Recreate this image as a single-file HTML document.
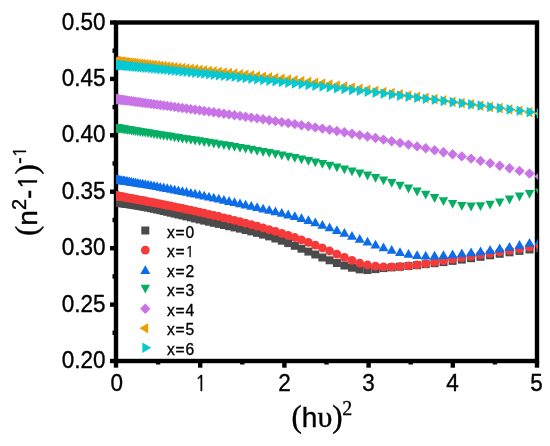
<!DOCTYPE html>
<html><head><meta charset="utf-8"><style>
html,body{margin:0;padding:0;background:#fff;width:550px;height:446px;overflow:hidden}
svg{display:block;filter:blur(0.35px)}
.tk{font-family:"Liberation Sans",Arial,sans-serif;font-size:22.5px;fill:#000;stroke:#000;stroke-width:0.35px}
.lg{font-family:"Liberation Sans",Arial,sans-serif;font-size:15.6px;letter-spacing:0.75px;fill:#000;stroke:#000;stroke-width:0.35px}
.al{font-family:"Liberation Sans",Arial,sans-serif;font-size:28px;fill:#000;stroke:#000;stroke-width:0.4px}
.sup{font-size:20px}
.one{font-family:"NanumGothic","Liberation Sans",sans-serif;font-size:0.9em}
.tk .one{font-size:0.85em}
.ups{font-family:"Liberation Serif","Times New Roman",serif;font-size:30px}
.par{font-family:"Liberation Serif","Times New Roman",serif;font-size:31px}
.sup2{font-family:"Liberation Serif","Times New Roman",serif;font-size:20px;fill:#000;stroke:#000;stroke-width:0.35px}
</style></head><body>
<svg width="550" height="446" viewBox="0 0 550 446">
<defs><clipPath id="cp"><rect x="116" y="22.5" width="422" height="338.5"/></clipPath></defs>
<rect x="116" y="22.5" width="421" height="338.5" fill="none" stroke="#000" stroke-width="4.4"/><line x1="110" y1="361" x2="116" y2="361" stroke="#000" stroke-width="4.4"/><line x1="112.5" y1="332.8" x2="116" y2="332.8" stroke="#000" stroke-width="4.4"/><line x1="110" y1="304.6" x2="116" y2="304.6" stroke="#000" stroke-width="4.4"/><line x1="112.5" y1="276.4" x2="116" y2="276.4" stroke="#000" stroke-width="4.4"/><line x1="110" y1="248.2" x2="116" y2="248.2" stroke="#000" stroke-width="4.4"/><line x1="112.5" y1="220" x2="116" y2="220" stroke="#000" stroke-width="4.4"/><line x1="110" y1="191.7" x2="116" y2="191.7" stroke="#000" stroke-width="4.4"/><line x1="112.5" y1="163.5" x2="116" y2="163.5" stroke="#000" stroke-width="4.4"/><line x1="110" y1="135.3" x2="116" y2="135.3" stroke="#000" stroke-width="4.4"/><line x1="112.5" y1="107.1" x2="116" y2="107.1" stroke="#000" stroke-width="4.4"/><line x1="110" y1="78.9" x2="116" y2="78.9" stroke="#000" stroke-width="4.4"/><line x1="112.5" y1="50.7" x2="116" y2="50.7" stroke="#000" stroke-width="4.4"/><line x1="110" y1="22.5" x2="116" y2="22.5" stroke="#000" stroke-width="4.4"/><line x1="116" y1="361" x2="116" y2="367.7" stroke="#000" stroke-width="4.4"/><line x1="158.1" y1="361" x2="158.1" y2="364.5" stroke="#000" stroke-width="4.4"/><line x1="200.2" y1="361" x2="200.2" y2="367.7" stroke="#000" stroke-width="4.4"/><line x1="242.3" y1="361" x2="242.3" y2="364.5" stroke="#000" stroke-width="4.4"/><line x1="284.4" y1="361" x2="284.4" y2="367.7" stroke="#000" stroke-width="4.4"/><line x1="326.5" y1="361" x2="326.5" y2="364.5" stroke="#000" stroke-width="4.4"/><line x1="368.6" y1="361" x2="368.6" y2="367.7" stroke="#000" stroke-width="4.4"/><line x1="410.7" y1="361" x2="410.7" y2="364.5" stroke="#000" stroke-width="4.4"/><line x1="452.8" y1="361" x2="452.8" y2="367.7" stroke="#000" stroke-width="4.4"/><line x1="494.9" y1="361" x2="494.9" y2="364.5" stroke="#000" stroke-width="4.4"/><line x1="537" y1="361" x2="537" y2="367.7" stroke="#000" stroke-width="4.4"/>
<g clip-path="url(#cp)"><g fill="#4b4b4b"><rect x="112" y="198.5" width="8" height="8"/><rect x="112.2" y="198.5" width="8" height="8"/><rect x="112.5" y="198.5" width="8" height="8"/><rect x="112.9" y="198.6" width="8" height="8"/><rect x="113.4" y="198.7" width="8" height="8"/><rect x="114.1" y="198.7" width="8" height="8"/><rect x="114.8" y="198.8" width="8" height="8"/><rect x="115.7" y="198.9" width="8" height="8"/><rect x="116.8" y="199" width="8" height="8"/><rect x="117.9" y="199.2" width="8" height="8"/><rect x="119.2" y="199.4" width="8" height="8"/><rect x="120.6" y="199.5" width="8" height="8"/><rect x="122.1" y="199.8" width="8" height="8"/><rect x="123.7" y="200" width="8" height="8"/><rect x="125.5" y="200.3" width="8" height="8"/><rect x="127.4" y="200.6" width="8" height="8"/><rect x="129.4" y="200.9" width="8" height="8"/><rect x="131.5" y="201.3" width="8" height="8"/><rect x="133.8" y="201.7" width="8" height="8"/><rect x="136.2" y="202.1" width="8" height="8"/><rect x="138.7" y="202.6" width="8" height="8"/><rect x="141.3" y="203.1" width="8" height="8"/><rect x="144.1" y="203.6" width="8" height="8"/><rect x="147" y="204.2" width="8" height="8"/><rect x="150" y="204.8" width="8" height="8"/><rect x="153.1" y="205.5" width="8" height="8"/><rect x="156.3" y="206.2" width="8" height="8"/><rect x="159.7" y="207" width="8" height="8"/><rect x="163.2" y="207.8" width="8" height="8"/><rect x="166.8" y="208.7" width="8" height="8"/><rect x="170.6" y="209.6" width="8" height="8"/><rect x="174.4" y="210.5" width="8" height="8"/><rect x="178.4" y="211.4" width="8" height="8"/><rect x="182.5" y="212.4" width="8" height="8"/><rect x="186.8" y="213.4" width="8" height="8"/><rect x="191.1" y="214.5" width="8" height="8"/><rect x="195.6" y="215.5" width="8" height="8"/><rect x="200.2" y="216.6" width="8" height="8"/><rect x="205" y="217.7" width="8" height="8"/><rect x="209.8" y="218.8" width="8" height="8"/><rect x="214.8" y="219.9" width="8" height="8"/><rect x="219.9" y="221" width="8" height="8"/><rect x="225.1" y="222.2" width="8" height="8"/><rect x="230.5" y="223.4" width="8" height="8"/><rect x="236" y="224.6" width="8" height="8"/><rect x="241.6" y="226" width="8" height="8"/><rect x="247.3" y="227.4" width="8" height="8"/><rect x="253.1" y="228.9" width="8" height="8"/><rect x="259.1" y="230.6" width="8" height="8"/><rect x="265.2" y="232.4" width="8" height="8"/><rect x="271.4" y="234.5" width="8" height="8"/><rect x="277.8" y="236.7" width="8" height="8"/><rect x="284.2" y="239.1" width="8" height="8"/><rect x="290.8" y="241.8" width="8" height="8"/><rect x="297.5" y="244.7" width="8" height="8"/><rect x="304.4" y="247.6" width="8" height="8"/><rect x="311.3" y="250.5" width="8" height="8"/><rect x="318.4" y="253.5" width="8" height="8"/><rect x="325.6" y="256.3" width="8" height="8"/><rect x="332.9" y="259" width="8" height="8"/><rect x="340.4" y="261.5" width="8" height="8"/><rect x="348" y="263.7" width="8" height="8"/><rect x="355.7" y="265.4" width="8" height="8"/><rect x="363.5" y="266" width="8" height="8"/><rect x="371.5" y="265.1" width="8" height="8"/><rect x="379.5" y="264.1" width="8" height="8"/><rect x="387.7" y="263.4" width="8" height="8"/><rect x="396" y="262.7" width="8" height="8"/><rect x="404.5" y="262" width="8" height="8"/><rect x="413.1" y="261.2" width="8" height="8"/><rect x="421.7" y="260.2" width="8" height="8"/><rect x="430.6" y="259.2" width="8" height="8"/><rect x="439.5" y="258.1" width="8" height="8"/><rect x="448.6" y="256.9" width="8" height="8"/><rect x="457.8" y="255.6" width="8" height="8"/><rect x="467.1" y="254.2" width="8" height="8"/><rect x="476.5" y="252.8" width="8" height="8"/><rect x="486.1" y="251.3" width="8" height="8"/><rect x="495.7" y="249.8" width="8" height="8"/><rect x="505.5" y="248.3" width="8" height="8"/><rect x="515.5" y="246.9" width="8" height="8"/><rect x="525.5" y="245.5" width="8" height="8"/><rect x="535.7" y="244.2" width="8" height="8"/></g><g fill="#f63a3a"><circle cx="116" cy="195.6" r="4.4"/><circle cx="116.2" cy="195.7" r="4.4"/><circle cx="116.5" cy="195.7" r="4.4"/><circle cx="116.9" cy="195.8" r="4.4"/><circle cx="117.4" cy="195.9" r="4.4"/><circle cx="118.1" cy="196" r="4.4"/><circle cx="118.8" cy="196.1" r="4.4"/><circle cx="119.7" cy="196.3" r="4.4"/><circle cx="120.8" cy="196.5" r="4.4"/><circle cx="121.9" cy="196.7" r="4.4"/><circle cx="123.2" cy="196.9" r="4.4"/><circle cx="124.6" cy="197.2" r="4.4"/><circle cx="126.1" cy="197.5" r="4.4"/><circle cx="127.7" cy="197.8" r="4.4"/><circle cx="129.5" cy="198.1" r="4.4"/><circle cx="131.4" cy="198.4" r="4.4"/><circle cx="133.4" cy="198.8" r="4.4"/><circle cx="135.5" cy="199.2" r="4.4"/><circle cx="137.8" cy="199.6" r="4.4"/><circle cx="140.2" cy="200.1" r="4.4"/><circle cx="142.7" cy="200.5" r="4.4"/><circle cx="145.3" cy="201" r="4.4"/><circle cx="148.1" cy="201.6" r="4.4"/><circle cx="151" cy="202.1" r="4.4"/><circle cx="154" cy="202.7" r="4.4"/><circle cx="157.1" cy="203.3" r="4.4"/><circle cx="160.3" cy="203.9" r="4.4"/><circle cx="163.7" cy="204.6" r="4.4"/><circle cx="167.2" cy="205.3" r="4.4"/><circle cx="170.8" cy="206" r="4.4"/><circle cx="174.6" cy="206.8" r="4.4"/><circle cx="178.4" cy="207.6" r="4.4"/><circle cx="182.4" cy="208.4" r="4.4"/><circle cx="186.5" cy="209.3" r="4.4"/><circle cx="190.8" cy="210.2" r="4.4"/><circle cx="195.1" cy="211.2" r="4.4"/><circle cx="199.6" cy="212.2" r="4.4"/><circle cx="204.2" cy="213.2" r="4.4"/><circle cx="209" cy="214.3" r="4.4"/><circle cx="213.8" cy="215.4" r="4.4"/><circle cx="218.8" cy="216.5" r="4.4"/><circle cx="223.9" cy="217.8" r="4.4"/><circle cx="229.1" cy="219" r="4.4"/><circle cx="234.5" cy="220.4" r="4.4"/><circle cx="240" cy="221.7" r="4.4"/><circle cx="245.6" cy="223.2" r="4.4"/><circle cx="251.3" cy="224.7" r="4.4"/><circle cx="257.1" cy="226.2" r="4.4"/><circle cx="263.1" cy="227.9" r="4.4"/><circle cx="269.2" cy="229.6" r="4.4"/><circle cx="275.4" cy="231.4" r="4.4"/><circle cx="281.8" cy="233.3" r="4.4"/><circle cx="288.2" cy="235.3" r="4.4"/><circle cx="294.8" cy="237.5" r="4.4"/><circle cx="301.5" cy="239.8" r="4.4"/><circle cx="308.4" cy="242.4" r="4.4"/><circle cx="315.3" cy="245.1" r="4.4"/><circle cx="322.4" cy="248" r="4.4"/><circle cx="329.6" cy="251" r="4.4"/><circle cx="336.9" cy="254.2" r="4.4"/><circle cx="344.4" cy="257.3" r="4.4"/><circle cx="352" cy="260.4" r="4.4"/><circle cx="359.7" cy="263.1" r="4.4"/><circle cx="367.5" cy="265" r="4.4"/><circle cx="375.5" cy="266.2" r="4.4"/><circle cx="383.5" cy="266.8" r="4.4"/><circle cx="391.7" cy="266.9" r="4.4"/><circle cx="400" cy="266.6" r="4.4"/><circle cx="408.5" cy="265.9" r="4.4"/><circle cx="417.1" cy="264.9" r="4.4"/><circle cx="425.7" cy="263.6" r="4.4"/><circle cx="434.6" cy="262.2" r="4.4"/><circle cx="443.5" cy="260.6" r="4.4"/><circle cx="452.6" cy="259.1" r="4.4"/><circle cx="461.8" cy="257.6" r="4.4"/><circle cx="471.1" cy="256.1" r="4.4"/><circle cx="480.5" cy="254.7" r="4.4"/><circle cx="490.1" cy="253.3" r="4.4"/><circle cx="499.7" cy="251.9" r="4.4"/><circle cx="509.5" cy="250.4" r="4.4"/><circle cx="519.5" cy="248.8" r="4.4"/><circle cx="529.5" cy="247.1" r="4.4"/><circle cx="539.7" cy="245.1" r="4.4"/></g><g fill="#0d6de9"><path d="M116 174.6L121 183.4L111 183.4Z"/><path d="M116.2 174.6L121.2 183.4L111.2 183.4Z"/><path d="M116.5 174.6L121.5 183.4L111.5 183.4Z"/><path d="M116.9 174.7L121.9 183.5L111.9 183.5Z"/><path d="M117.4 174.8L122.4 183.6L112.4 183.6Z"/><path d="M118.1 174.9L123.1 183.7L113.1 183.7Z"/><path d="M118.8 175L123.8 183.8L113.8 183.8Z"/><path d="M119.7 175.1L124.7 183.9L114.7 183.9Z"/><path d="M120.8 175.3L125.8 184.1L115.8 184.1Z"/><path d="M121.9 175.4L126.9 184.2L116.9 184.2Z"/><path d="M123.2 175.6L128.2 184.4L118.2 184.4Z"/><path d="M124.6 175.8L129.6 184.6L119.6 184.6Z"/><path d="M126.1 176.1L131.1 184.9L121.1 184.9Z"/><path d="M127.7 176.3L132.7 185.1L122.7 185.1Z"/><path d="M129.5 176.6L134.5 185.4L124.5 185.4Z"/><path d="M131.4 176.9L136.4 185.7L126.4 185.7Z"/><path d="M133.4 177.2L138.4 186L128.4 186Z"/><path d="M135.5 177.6L140.5 186.4L130.5 186.4Z"/><path d="M137.8 178L142.8 186.8L132.8 186.8Z"/><path d="M140.2 178.4L145.2 187.2L135.2 187.2Z"/><path d="M142.7 178.8L147.7 187.6L137.7 187.6Z"/><path d="M145.3 179.2L150.3 188L140.3 188Z"/><path d="M148.1 179.7L153.1 188.5L143.1 188.5Z"/><path d="M151 180.2L156 189L146 189Z"/><path d="M154 180.8L159 189.6L149 189.6Z"/><path d="M157.1 181.3L162.1 190.1L152.1 190.1Z"/><path d="M160.3 181.9L165.3 190.7L155.3 190.7Z"/><path d="M163.7 182.6L168.7 191.4L158.7 191.4Z"/><path d="M167.2 183.2L172.2 192L162.2 192Z"/><path d="M170.8 183.9L175.8 192.7L165.8 192.7Z"/><path d="M174.6 184.7L179.6 193.5L169.6 193.5Z"/><path d="M178.4 185.4L183.4 194.2L173.4 194.2Z"/><path d="M182.4 186.2L187.4 195L177.4 195Z"/><path d="M186.5 187L191.5 195.8L181.5 195.8Z"/><path d="M190.8 187.9L195.8 196.7L185.8 196.7Z"/><path d="M195.1 188.8L200.1 197.6L190.1 197.6Z"/><path d="M199.6 189.7L204.6 198.5L194.6 198.5Z"/><path d="M204.2 190.7L209.2 199.5L199.2 199.5Z"/><path d="M209 191.7L214 200.5L204 200.5Z"/><path d="M213.8 192.7L218.8 201.5L208.8 201.5Z"/><path d="M218.8 193.8L223.8 202.6L213.8 202.6Z"/><path d="M223.9 194.9L228.9 203.7L218.9 203.7Z"/><path d="M229.1 196.1L234.1 204.9L224.1 204.9Z"/><path d="M234.5 197.3L239.5 206.1L229.5 206.1Z"/><path d="M240 198.5L245 207.3L235 207.3Z"/><path d="M245.6 199.7L250.6 208.5L240.6 208.5Z"/><path d="M251.3 201L256.3 209.8L246.3 209.8Z"/><path d="M257.1 202.3L262.1 211.1L252.1 211.1Z"/><path d="M263.1 203.7L268.1 212.5L258.1 212.5Z"/><path d="M269.2 205L274.2 213.8L264.2 213.8Z"/><path d="M275.4 206.5L280.4 215.3L270.4 215.3Z"/><path d="M281.8 208L286.8 216.8L276.8 216.8Z"/><path d="M288.2 209.6L293.2 218.4L283.2 218.4Z"/><path d="M294.8 211.3L299.8 220.1L289.8 220.1Z"/><path d="M301.5 213.2L306.5 222L296.5 222Z"/><path d="M308.4 215.2L313.4 224L303.4 224Z"/><path d="M315.3 217.5L320.3 226.3L310.3 226.3Z"/><path d="M322.4 219.9L327.4 228.7L317.4 228.7Z"/><path d="M329.6 222.5L334.6 231.3L324.6 231.3Z"/><path d="M336.9 225.2L341.9 234L331.9 234Z"/><path d="M344.4 228L349.4 236.8L339.4 236.8Z"/><path d="M352 230.9L357 239.7L347 239.7Z"/><path d="M359.7 233.9L364.7 242.7L354.7 242.7Z"/><path d="M367.5 236.8L372.5 245.6L362.5 245.6Z"/><path d="M375.5 239.7L380.5 248.5L370.5 248.5Z"/><path d="M383.5 242.4L388.5 251.2L378.5 251.2Z"/><path d="M391.7 245L396.7 253.8L386.7 253.8Z"/><path d="M400 247.2L405 256L395 256Z"/><path d="M408.5 249L413.5 257.8L403.5 257.8Z"/><path d="M417.1 250.2L422.1 259L412.1 259Z"/><path d="M425.7 250.8L430.7 259.6L420.7 259.6Z"/><path d="M434.6 250.7L439.6 259.5L429.6 259.5Z"/><path d="M443.5 250.2L448.5 259L438.5 259Z"/><path d="M452.6 249.4L457.6 258.2L447.6 258.2Z"/><path d="M461.8 248.5L466.8 257.3L456.8 257.3Z"/><path d="M471.1 247.5L476.1 256.3L466.1 256.3Z"/><path d="M480.5 246.4L485.5 255.2L475.5 255.2Z"/><path d="M490.1 245.1L495.1 253.9L485.1 253.9Z"/><path d="M499.7 243.6L504.7 252.4L494.7 252.4Z"/><path d="M509.5 242L514.5 250.8L504.5 250.8Z"/><path d="M519.5 240.1L524.5 248.9L514.5 248.9Z"/><path d="M529.5 238L534.5 246.8L524.5 246.8Z"/><path d="M539.7 235.5L544.7 244.3L534.7 244.3Z"/></g><g fill="#06ae64"><path d="M111.3 124L120.7 124L116 132.8Z"/><path d="M111.5 124.1L120.9 124.1L116.2 132.9Z"/><path d="M111.8 124.1L121.2 124.1L116.5 132.9Z"/><path d="M112.2 124.2L121.6 124.2L116.9 133Z"/><path d="M112.7 124.3L122.1 124.3L117.4 133.1Z"/><path d="M113.4 124.4L122.8 124.4L118.1 133.2Z"/><path d="M114.1 124.5L123.5 124.5L118.8 133.3Z"/><path d="M115 124.7L124.4 124.7L119.7 133.5Z"/><path d="M116.1 124.8L125.5 124.8L120.8 133.6Z"/><path d="M117.2 125L126.6 125L121.9 133.8Z"/><path d="M118.5 125.2L127.9 125.2L123.2 134Z"/><path d="M119.9 125.5L129.3 125.5L124.6 134.3Z"/><path d="M121.4 125.7L130.8 125.7L126.1 134.5Z"/><path d="M123 126L132.4 126L127.7 134.8Z"/><path d="M124.8 126.3L134.2 126.3L129.5 135.1Z"/><path d="M126.7 126.6L136.1 126.6L131.4 135.4Z"/><path d="M128.7 126.9L138.1 126.9L133.4 135.7Z"/><path d="M130.8 127.3L140.2 127.3L135.5 136.1Z"/><path d="M133.1 127.6L142.5 127.6L137.8 136.4Z"/><path d="M135.5 128L144.9 128L140.2 136.8Z"/><path d="M138 128.4L147.4 128.4L142.7 137.2Z"/><path d="M140.6 128.8L150 128.8L145.3 137.6Z"/><path d="M143.4 129.3L152.8 129.3L148.1 138.1Z"/><path d="M146.3 129.7L155.7 129.7L151 138.5Z"/><path d="M149.3 130.2L158.7 130.2L154 139Z"/><path d="M152.4 130.7L161.8 130.7L157.1 139.5Z"/><path d="M155.6 131.2L165 131.2L160.3 140Z"/><path d="M159 131.7L168.4 131.7L163.7 140.5Z"/><path d="M162.5 132.3L171.9 132.3L167.2 141.1Z"/><path d="M166.1 132.8L175.5 132.8L170.8 141.6Z"/><path d="M169.9 133.4L179.3 133.4L174.6 142.2Z"/><path d="M173.7 134L183.1 134L178.4 142.8Z"/><path d="M177.7 134.7L187.1 134.7L182.4 143.5Z"/><path d="M181.8 135.3L191.2 135.3L186.5 144.1Z"/><path d="M186.1 136L195.5 136L190.8 144.8Z"/><path d="M190.4 136.6L199.8 136.6L195.1 145.4Z"/><path d="M194.9 137.3L204.3 137.3L199.6 146.1Z"/><path d="M199.5 138.1L208.9 138.1L204.2 146.9Z"/><path d="M204.3 138.8L213.7 138.8L209 147.6Z"/><path d="M209.1 139.6L218.5 139.6L213.8 148.4Z"/><path d="M214.1 140.4L223.5 140.4L218.8 149.2Z"/><path d="M219.2 141.2L228.6 141.2L223.9 150Z"/><path d="M224.4 142.1L233.8 142.1L229.1 150.9Z"/><path d="M229.8 143L239.2 143L234.5 151.8Z"/><path d="M235.3 143.9L244.7 143.9L240 152.7Z"/><path d="M240.9 144.8L250.3 144.8L245.6 153.6Z"/><path d="M246.6 145.8L256 145.8L251.3 154.6Z"/><path d="M252.4 146.9L261.8 146.9L257.1 155.7Z"/><path d="M258.4 147.9L267.8 147.9L263.1 156.7Z"/><path d="M264.5 149L273.9 149L269.2 157.8Z"/><path d="M270.7 150.2L280.1 150.2L275.4 159Z"/><path d="M277.1 151.4L286.5 151.4L281.8 160.2Z"/><path d="M283.5 152.7L292.9 152.7L288.2 161.5Z"/><path d="M290.1 154L299.5 154L294.8 162.8Z"/><path d="M296.8 155.4L306.2 155.4L301.5 164.2Z"/><path d="M303.7 156.9L313.1 156.9L308.4 165.7Z"/><path d="M310.6 158.4L320 158.4L315.3 167.2Z"/><path d="M317.7 160L327.1 160L322.4 168.8Z"/><path d="M324.9 161.7L334.3 161.7L329.6 170.5Z"/><path d="M332.2 163.5L341.6 163.5L336.9 172.3Z"/><path d="M339.7 165.4L349.1 165.4L344.4 174.2Z"/><path d="M347.3 167.4L356.7 167.4L352 176.2Z"/><path d="M355 169.4L364.4 169.4L359.7 178.2Z"/><path d="M362.8 171.6L372.2 171.6L367.5 180.4Z"/><path d="M370.8 174L380.2 174L375.5 182.8Z"/><path d="M378.8 176.4L388.2 176.4L383.5 185.2Z"/><path d="M387 179L396.4 179L391.7 187.8Z"/><path d="M395.3 181.7L404.7 181.7L400 190.5Z"/><path d="M403.8 184.6L413.2 184.6L408.5 193.4Z"/><path d="M412.4 187.6L421.8 187.6L417.1 196.4Z"/><path d="M421 190.8L430.4 190.8L425.7 199.6Z"/><path d="M429.9 194.1L439.3 194.1L434.6 202.9Z"/><path d="M438.8 197.3L448.2 197.3L443.5 206.1Z"/><path d="M447.9 200L457.3 200L452.6 208.8Z"/><path d="M457.1 201.9L466.5 201.9L461.8 210.7Z"/><path d="M466.4 202.6L475.8 202.6L471.1 211.4Z"/><path d="M475.8 202.2L485.2 202.2L480.5 211Z"/><path d="M485.4 200.8L494.8 200.8L490.1 209.6Z"/><path d="M495 198.5L504.4 198.5L499.7 207.3Z"/><path d="M504.8 195.6L514.2 195.6L509.5 204.4Z"/><path d="M514.8 192.6L524.2 192.6L519.5 201.4Z"/><path d="M524.8 190L534.2 190L529.5 198.8Z"/><path d="M535 188.6L544.4 188.6L539.7 197.4Z"/></g><g fill="#c874e6"><path d="M116 93.9L121.2 99.1L116 104.3L110.8 99.1Z"/><path d="M116.2 93.9L121.4 99.1L116.2 104.3L111 99.1Z"/><path d="M116.5 93.9L121.7 99.1L116.5 104.3L111.3 99.1Z"/><path d="M116.9 94L122.1 99.2L116.9 104.4L111.7 99.2Z"/><path d="M117.4 94.1L122.6 99.3L117.4 104.5L112.2 99.3Z"/><path d="M118.1 94.1L123.3 99.3L118.1 104.5L112.9 99.3Z"/><path d="M118.8 94.2L124 99.4L118.8 104.6L113.6 99.4Z"/><path d="M119.7 94.4L124.9 99.6L119.7 104.8L114.5 99.6Z"/><path d="M120.8 94.5L126 99.7L120.8 104.9L115.6 99.7Z"/><path d="M121.9 94.7L127.1 99.9L121.9 105.1L116.7 99.9Z"/><path d="M123.2 94.8L128.4 100L123.2 105.2L118 100Z"/><path d="M124.6 95L129.8 100.2L124.6 105.4L119.4 100.2Z"/><path d="M126.1 95.2L131.3 100.4L126.1 105.6L120.9 100.4Z"/><path d="M127.7 95.4L132.9 100.6L127.7 105.8L122.5 100.6Z"/><path d="M129.5 95.7L134.7 100.9L129.5 106.1L124.3 100.9Z"/><path d="M131.4 95.9L136.6 101.1L131.4 106.3L126.2 101.1Z"/><path d="M133.4 96.2L138.6 101.4L133.4 106.6L128.2 101.4Z"/><path d="M135.5 96.5L140.7 101.7L135.5 106.9L130.3 101.7Z"/><path d="M137.8 96.8L143 102L137.8 107.2L132.6 102Z"/><path d="M140.2 97.1L145.4 102.3L140.2 107.5L135 102.3Z"/><path d="M142.7 97.5L147.9 102.7L142.7 107.9L137.5 102.7Z"/><path d="M145.3 97.8L150.5 103L145.3 108.2L140.1 103Z"/><path d="M148.1 98.2L153.3 103.4L148.1 108.6L142.9 103.4Z"/><path d="M151 98.6L156.2 103.8L151 109L145.8 103.8Z"/><path d="M154 99L159.2 104.2L154 109.4L148.8 104.2Z"/><path d="M157.1 99.4L162.3 104.6L157.1 109.8L151.9 104.6Z"/><path d="M160.3 99.8L165.5 105L160.3 110.2L155.1 105Z"/><path d="M163.7 100.3L168.9 105.5L163.7 110.7L158.5 105.5Z"/><path d="M167.2 100.7L172.4 105.9L167.2 111.1L162 105.9Z"/><path d="M170.8 101.2L176 106.4L170.8 111.6L165.6 106.4Z"/><path d="M174.6 101.7L179.8 106.9L174.6 112.1L169.4 106.9Z"/><path d="M178.4 102.3L183.6 107.5L178.4 112.7L173.2 107.5Z"/><path d="M182.4 102.8L187.6 108L182.4 113.2L177.2 108Z"/><path d="M186.5 103.3L191.7 108.5L186.5 113.7L181.3 108.5Z"/><path d="M190.8 103.9L196 109.1L190.8 114.3L185.6 109.1Z"/><path d="M195.1 104.5L200.3 109.7L195.1 114.9L189.9 109.7Z"/><path d="M199.6 105.1L204.8 110.3L199.6 115.5L194.4 110.3Z"/><path d="M204.2 105.8L209.4 111L204.2 116.2L199 111Z"/><path d="M209 106.4L214.2 111.6L209 116.8L203.8 111.6Z"/><path d="M213.8 107.1L219 112.3L213.8 117.5L208.6 112.3Z"/><path d="M218.8 107.8L224 113L218.8 118.2L213.6 113Z"/><path d="M223.9 108.5L229.1 113.7L223.9 118.9L218.7 113.7Z"/><path d="M229.1 109.2L234.3 114.4L229.1 119.6L223.9 114.4Z"/><path d="M234.5 110L239.7 115.2L234.5 120.4L229.3 115.2Z"/><path d="M240 110.7L245.2 115.9L240 121.1L234.8 115.9Z"/><path d="M245.6 111.5L250.8 116.7L245.6 121.9L240.4 116.7Z"/><path d="M251.3 112.4L256.5 117.6L251.3 122.8L246.1 117.6Z"/><path d="M257.1 113.2L262.3 118.4L257.1 123.6L251.9 118.4Z"/><path d="M263.1 114.1L268.3 119.3L263.1 124.5L257.9 119.3Z"/><path d="M269.2 115L274.4 120.2L269.2 125.4L264 120.2Z"/><path d="M275.4 115.9L280.6 121.1L275.4 126.3L270.2 121.1Z"/><path d="M281.8 116.9L287 122.1L281.8 127.3L276.6 122.1Z"/><path d="M288.2 117.9L293.4 123.1L288.2 128.3L283 123.1Z"/><path d="M294.8 118.9L300 124.1L294.8 129.3L289.6 124.1Z"/><path d="M301.5 120L306.7 125.2L301.5 130.4L296.3 125.2Z"/><path d="M308.4 121.1L313.6 126.3L308.4 131.5L303.2 126.3Z"/><path d="M315.3 122.2L320.5 127.4L315.3 132.6L310.1 127.4Z"/><path d="M322.4 123.4L327.6 128.6L322.4 133.8L317.2 128.6Z"/><path d="M329.6 124.6L334.8 129.8L329.6 135L324.4 129.8Z"/><path d="M336.9 125.8L342.1 131L336.9 136.2L331.7 131Z"/><path d="M344.4 127.1L349.6 132.3L344.4 137.5L339.2 132.3Z"/><path d="M352 128.5L357.2 133.7L352 138.9L346.8 133.7Z"/><path d="M359.7 129.9L364.9 135.1L359.7 140.3L354.5 135.1Z"/><path d="M367.5 131.3L372.7 136.5L367.5 141.7L362.3 136.5Z"/><path d="M375.5 132.8L380.7 138L375.5 143.2L370.3 138Z"/><path d="M383.5 134.4L388.7 139.6L383.5 144.8L378.3 139.6Z"/><path d="M391.7 136L396.9 141.2L391.7 146.4L386.5 141.2Z"/><path d="M400 137.7L405.2 142.9L400 148.1L394.8 142.9Z"/><path d="M408.5 139.4L413.7 144.6L408.5 149.8L403.3 144.6Z"/><path d="M417.1 141.2L422.3 146.4L417.1 151.6L411.9 146.4Z"/><path d="M425.7 143L430.9 148.2L425.7 153.4L420.5 148.2Z"/><path d="M434.6 145L439.8 150.2L434.6 155.4L429.4 150.2Z"/><path d="M443.5 147L448.7 152.2L443.5 157.4L438.3 152.2Z"/><path d="M452.6 149L457.8 154.2L452.6 159.4L447.4 154.2Z"/><path d="M461.8 151.2L467 156.4L461.8 161.6L456.6 156.4Z"/><path d="M471.1 153.4L476.3 158.6L471.1 163.8L465.9 158.6Z"/><path d="M480.5 155.7L485.7 160.9L480.5 166.1L475.3 160.9Z"/><path d="M490.1 158.1L495.3 163.3L490.1 168.5L484.9 163.3Z"/><path d="M499.7 160.5L504.9 165.7L499.7 170.9L494.5 165.7Z"/><path d="M509.5 163.1L514.7 168.3L509.5 173.5L504.3 168.3Z"/><path d="M519.5 165.7L524.7 170.9L519.5 176.1L514.3 170.9Z"/><path d="M529.5 168.4L534.7 173.6L529.5 178.8L524.3 173.6Z"/><path d="M539.7 171.2L544.9 176.4L539.7 181.6L534.5 176.4Z"/></g><g fill="#eb9f05"><path d="M110.2 61.3L118.9 56L118.9 66.6Z"/><path d="M110.4 61.3L119.1 56L119.1 66.6Z"/><path d="M110.7 61.4L119.4 56.1L119.4 66.7Z"/><path d="M111.1 61.4L119.8 56.1L119.8 66.7Z"/><path d="M111.6 61.5L120.3 56.2L120.3 66.8Z"/><path d="M112.3 61.5L121 56.2L121 66.8Z"/><path d="M113 61.6L121.7 56.3L121.7 66.9Z"/><path d="M113.9 61.7L122.6 56.4L122.6 67Z"/><path d="M115 61.8L123.7 56.5L123.7 67.1Z"/><path d="M116.1 61.9L124.8 56.6L124.8 67.2Z"/><path d="M117.4 62L126.1 56.7L126.1 67.3Z"/><path d="M118.8 62.2L127.5 56.9L127.5 67.5Z"/><path d="M120.3 62.3L129 57L129 67.6Z"/><path d="M121.9 62.5L130.6 57.2L130.6 67.8Z"/><path d="M123.7 62.7L132.4 57.4L132.4 68Z"/><path d="M125.6 62.9L134.3 57.6L134.3 68.2Z"/><path d="M127.6 63.1L136.3 57.8L136.3 68.4Z"/><path d="M129.7 63.3L138.4 58L138.4 68.6Z"/><path d="M132 63.5L140.7 58.2L140.7 68.8Z"/><path d="M134.4 63.8L143.1 58.5L143.1 69.1Z"/><path d="M136.9 64L145.6 58.7L145.6 69.3Z"/><path d="M139.5 64.3L148.2 59L148.2 69.6Z"/><path d="M142.3 64.5L151 59.2L151 69.8Z"/><path d="M145.2 64.8L153.9 59.5L153.9 70.1Z"/><path d="M148.2 65.1L156.9 59.8L156.9 70.4Z"/><path d="M151.3 65.5L160 60.2L160 70.8Z"/><path d="M154.5 65.8L163.2 60.5L163.2 71.1Z"/><path d="M157.9 66.1L166.6 60.8L166.6 71.4Z"/><path d="M161.4 66.5L170.1 61.2L170.1 71.8Z"/><path d="M165 66.9L173.7 61.6L173.7 72.2Z"/><path d="M168.8 67.3L177.5 62L177.5 72.6Z"/><path d="M172.6 67.7L181.3 62.4L181.3 73Z"/><path d="M176.6 68.1L185.3 62.8L185.3 73.4Z"/><path d="M180.7 68.5L189.4 63.2L189.4 73.8Z"/><path d="M185 68.9L193.7 63.6L193.7 74.2Z"/><path d="M189.3 69.4L198 64.1L198 74.7Z"/><path d="M193.8 69.9L202.5 64.6L202.5 75.2Z"/><path d="M198.4 70.4L207.1 65.1L207.1 75.7Z"/><path d="M203.2 70.9L211.9 65.6L211.9 76.2Z"/><path d="M208 71.4L216.7 66.1L216.7 76.7Z"/><path d="M213 71.9L221.7 66.6L221.7 77.2Z"/><path d="M218.1 72.5L226.8 67.2L226.8 77.8Z"/><path d="M223.3 73L232 67.7L232 78.3Z"/><path d="M228.7 73.6L237.4 68.3L237.4 78.9Z"/><path d="M234.2 74.2L242.9 68.9L242.9 79.5Z"/><path d="M239.8 74.8L248.5 69.5L248.5 80.1Z"/><path d="M245.5 75.4L254.2 70.1L254.2 80.7Z"/><path d="M251.3 76.1L260 70.8L260 81.4Z"/><path d="M257.3 76.8L266 71.5L266 82.1Z"/><path d="M263.4 77.4L272.1 72.1L272.1 82.7Z"/><path d="M269.6 78.1L278.3 72.8L278.3 83.4Z"/><path d="M276 78.8L284.7 73.5L284.7 84.1Z"/><path d="M282.4 79.6L291.1 74.3L291.1 84.9Z"/><path d="M289 80.3L297.7 75L297.7 85.6Z"/><path d="M295.7 81.1L304.4 75.8L304.4 86.4Z"/><path d="M302.6 81.9L311.3 76.6L311.3 87.2Z"/><path d="M309.5 82.7L318.2 77.4L318.2 88Z"/><path d="M316.6 83.6L325.3 78.3L325.3 88.9Z"/><path d="M323.8 84.5L332.5 79.2L332.5 89.8Z"/><path d="M331.1 85.5L339.8 80.2L339.8 90.8Z"/><path d="M338.6 86.5L347.3 81.2L347.3 91.8Z"/><path d="M346.2 87.6L354.9 82.3L354.9 92.9Z"/><path d="M353.9 88.7L362.6 83.4L362.6 94Z"/><path d="M361.7 89.8L370.4 84.5L370.4 95.1Z"/><path d="M369.7 90.9L378.4 85.6L378.4 96.2Z"/><path d="M377.7 92L386.4 86.7L386.4 97.3Z"/><path d="M385.9 93.1L394.6 87.8L394.6 98.4Z"/><path d="M394.2 94.3L402.9 89L402.9 99.6Z"/><path d="M402.7 95.5L411.4 90.2L411.4 100.8Z"/><path d="M411.3 96.7L420 91.4L420 102Z"/><path d="M419.9 97.9L428.6 92.6L428.6 103.2Z"/><path d="M428.8 99.1L437.5 93.8L437.5 104.4Z"/><path d="M437.7 100.4L446.4 95.1L446.4 105.7Z"/><path d="M446.8 101.7L455.5 96.4L455.5 107Z"/><path d="M456 103L464.7 97.7L464.7 108.3Z"/><path d="M465.3 104.3L474 99L474 109.6Z"/><path d="M474.7 105.6L483.4 100.3L483.4 110.9Z"/><path d="M484.3 106.9L493 101.6L493 112.2Z"/><path d="M493.9 108.1L502.6 102.8L502.6 113.4Z"/><path d="M503.7 109.4L512.4 104.1L512.4 114.7Z"/><path d="M513.7 110.8L522.4 105.5L522.4 116.1Z"/><path d="M523.7 112.1L532.4 106.8L532.4 117.4Z"/><path d="M533.9 113.5L542.6 108.2L542.6 118.8Z"/></g><g fill="#05c8d2"><path d="M121.8 64.6L113.1 59.3L113.1 69.9Z"/><path d="M122 64.6L113.3 59.3L113.3 69.9Z"/><path d="M122.3 64.7L113.6 59.4L113.6 70Z"/><path d="M122.7 64.7L114 59.4L114 70Z"/><path d="M123.2 64.8L114.5 59.5L114.5 70.1Z"/><path d="M123.9 64.8L115.2 59.5L115.2 70.1Z"/><path d="M124.6 64.9L115.9 59.6L115.9 70.2Z"/><path d="M125.5 65L116.8 59.7L116.8 70.3Z"/><path d="M126.6 65.1L117.9 59.8L117.9 70.4Z"/><path d="M127.7 65.2L119 59.9L119 70.5Z"/><path d="M129 65.3L120.3 60L120.3 70.6Z"/><path d="M130.4 65.5L121.7 60.2L121.7 70.8Z"/><path d="M131.9 65.6L123.2 60.3L123.2 70.9Z"/><path d="M133.5 65.8L124.8 60.5L124.8 71.1Z"/><path d="M135.3 66L126.6 60.7L126.6 71.3Z"/><path d="M137.2 66.2L128.5 60.9L128.5 71.5Z"/><path d="M139.2 66.4L130.5 61.1L130.5 71.7Z"/><path d="M141.3 66.6L132.6 61.3L132.6 71.9Z"/><path d="M143.6 66.8L134.9 61.5L134.9 72.1Z"/><path d="M146 67.1L137.3 61.8L137.3 72.4Z"/><path d="M148.5 67.3L139.8 62L139.8 72.6Z"/><path d="M151.1 67.6L142.4 62.3L142.4 72.9Z"/><path d="M153.9 67.8L145.2 62.5L145.2 73.1Z"/><path d="M156.8 68.1L148.1 62.8L148.1 73.4Z"/><path d="M159.8 68.4L151.1 63.1L151.1 73.7Z"/><path d="M162.9 68.8L154.2 63.5L154.2 74.1Z"/><path d="M166.1 69.1L157.4 63.8L157.4 74.4Z"/><path d="M169.5 69.4L160.8 64.1L160.8 74.7Z"/><path d="M173 69.8L164.3 64.5L164.3 75.1Z"/><path d="M176.6 70.2L167.9 64.9L167.9 75.5Z"/><path d="M180.4 70.6L171.7 65.3L171.7 75.9Z"/><path d="M184.2 71L175.5 65.7L175.5 76.3Z"/><path d="M188.2 71.4L179.5 66.1L179.5 76.7Z"/><path d="M192.3 71.8L183.6 66.5L183.6 77.1Z"/><path d="M196.6 72.2L187.9 66.9L187.9 77.5Z"/><path d="M200.9 72.7L192.2 67.4L192.2 78Z"/><path d="M205.4 73.2L196.7 67.9L196.7 78.5Z"/><path d="M210 73.6L201.3 68.3L201.3 78.9Z"/><path d="M214.8 74.1L206.1 68.8L206.1 79.4Z"/><path d="M219.6 74.6L210.9 69.3L210.9 79.9Z"/><path d="M224.6 75.2L215.9 69.9L215.9 80.5Z"/><path d="M229.7 75.7L221 70.4L221 81Z"/><path d="M234.9 76.3L226.2 71L226.2 81.6Z"/><path d="M240.3 76.8L231.6 71.5L231.6 82.1Z"/><path d="M245.8 77.4L237.1 72.1L237.1 82.7Z"/><path d="M251.4 78L242.7 72.7L242.7 83.3Z"/><path d="M257.1 78.6L248.4 73.3L248.4 83.9Z"/><path d="M262.9 79.3L254.2 74L254.2 84.6Z"/><path d="M268.9 79.9L260.2 74.6L260.2 85.2Z"/><path d="M275 80.6L266.3 75.3L266.3 85.9Z"/><path d="M281.2 81.3L272.5 76L272.5 86.6Z"/><path d="M287.6 82L278.9 76.7L278.9 87.3Z"/><path d="M294 82.7L285.3 77.4L285.3 88Z"/><path d="M300.6 83.4L291.9 78.1L291.9 88.7Z"/><path d="M307.3 84.1L298.6 78.8L298.6 89.4Z"/><path d="M314.2 84.9L305.5 79.6L305.5 90.2Z"/><path d="M321.1 85.7L312.4 80.4L312.4 91Z"/><path d="M328.2 86.5L319.5 81.2L319.5 91.8Z"/><path d="M335.4 87.3L326.7 82L326.7 92.6Z"/><path d="M342.7 88.2L334 82.9L334 93.5Z"/><path d="M350.2 89L341.5 83.7L341.5 94.3Z"/><path d="M357.8 89.9L349.1 84.6L349.1 95.2Z"/><path d="M365.5 90.8L356.8 85.5L356.8 96.1Z"/><path d="M373.3 91.7L364.6 86.4L364.6 97Z"/><path d="M381.3 92.6L372.6 87.3L372.6 97.9Z"/><path d="M389.3 93.6L380.6 88.3L380.6 98.9Z"/><path d="M397.5 94.6L388.8 89.3L388.8 99.9Z"/><path d="M405.8 95.6L397.1 90.3L397.1 100.9Z"/><path d="M414.3 96.6L405.6 91.3L405.6 101.9Z"/><path d="M422.9 97.7L414.2 92.4L414.2 103Z"/><path d="M431.5 98.7L422.8 93.4L422.8 104Z"/><path d="M440.4 99.8L431.7 94.5L431.7 105.1Z"/><path d="M449.3 100.9L440.6 95.6L440.6 106.2Z"/><path d="M458.4 102.1L449.7 96.8L449.7 107.4Z"/><path d="M467.6 103.2L458.9 97.9L458.9 108.5Z"/><path d="M476.9 104.4L468.2 99.1L468.2 109.7Z"/><path d="M486.3 105.6L477.6 100.3L477.6 110.9Z"/><path d="M495.9 106.9L487.2 101.6L487.2 112.2Z"/><path d="M505.5 108.1L496.8 102.8L496.8 113.4Z"/><path d="M515.3 109.4L506.6 104.1L506.6 114.7Z"/><path d="M525.3 110.8L516.6 105.5L516.6 116.1Z"/><path d="M535.3 112.1L526.6 106.8L526.6 117.4Z"/><path d="M545.5 113.5L536.8 108.2L536.8 118.8Z"/></g></g>
<text transform="translate(105.6 368) scale(1 1.08)" text-anchor="end" class="tk">0.20</text><text transform="translate(105.6 311.6) scale(1 1.08)" text-anchor="end" class="tk">0.25</text><text transform="translate(105.6 255.2) scale(1 1.08)" text-anchor="end" class="tk">0.30</text><text transform="translate(105.6 198.7) scale(1 1.08)" text-anchor="end" class="tk">0.35</text><text transform="translate(105.6 142.3) scale(1 1.08)" text-anchor="end" class="tk">0.40</text><text transform="translate(105.6 85.9) scale(1 1.08)" text-anchor="end" class="tk">0.45</text><text transform="translate(105.6 29.5) scale(1 1.08)" text-anchor="end" class="tk">0.50</text><text transform="translate(116.7 391) scale(1 1.08)" text-anchor="middle" class="tk">0</text><text transform="translate(200.7 391) scale(1 1.08)" text-anchor="middle" class="tk"><tspan class="one">1</tspan></text><text transform="translate(284.6 391) scale(1 1.08)" text-anchor="middle" class="tk">2</text><text transform="translate(368.6 391) scale(1 1.08)" text-anchor="middle" class="tk">3</text><text transform="translate(452.5 391) scale(1 1.08)" text-anchor="middle" class="tk">4</text><text transform="translate(536.5 391) scale(1 1.08)" text-anchor="middle" class="tk">5</text>
<g fill="#4b4b4b"><rect x="141.3" y="226.5" width="8" height="8"/></g><text transform="translate(167.0 237.7) scale(1 1.0)" class="lg">x=0</text><g fill="#f63a3a"><circle cx="145.3" cy="250.1" r="4.4"/></g><text transform="translate(167.0 257.2) scale(1 1.0)" class="lg">x=<tspan class="one">1</tspan></text><g fill="#0d6de9"><path d="M145.3 265.2L150.3 274L140.3 274Z"/></g><text transform="translate(167.0 276.8) scale(1 1.0)" class="lg">x=2</text><g fill="#06ae64"><path d="M140.6 284.8L150 284.8L145.3 293.5Z"/></g><text transform="translate(167.0 296.3) scale(1 1.0)" class="lg">x=3</text><g fill="#c874e6"><path d="M145.3 303.5L150.5 308.7L145.3 313.9L140.1 308.7Z"/></g><text transform="translate(167.0 315.9) scale(1 1.0)" class="lg">x=4</text><g fill="#eb9f05"><path d="M139.5 328.2L148.2 322.9L148.2 333.6Z"/></g><text transform="translate(167.0 335.4) scale(1 1.0)" class="lg">x=5</text><g fill="#05c8d2"><path d="M151.1 347.8L142.4 342.5L142.4 353.1Z"/></g><text transform="translate(167.0 355) scale(1 1.0)" class="lg">x=6</text>
<text x="291.5" y="426.8" class="al"><tspan class="par">(</tspan>h<tspan class="ups">&#965;</tspan><tspan class="par">)</tspan></text><text x="342.3" y="415.3" class="sup2">2</text>
<g transform="translate(37 236) rotate(-90)"><text x="0" y="0" class="al"><tspan class="par">(</tspan>n<tspan dy="-11.2" class="sup">2</tspan><tspan dy="11.2">-<tspan class="one">1</tspan></tspan><tspan class="par">)</tspan><tspan dy="-11.2" class="sup">-<tspan class="one">1</tspan></tspan></text></g>
</svg>
</body></html>
